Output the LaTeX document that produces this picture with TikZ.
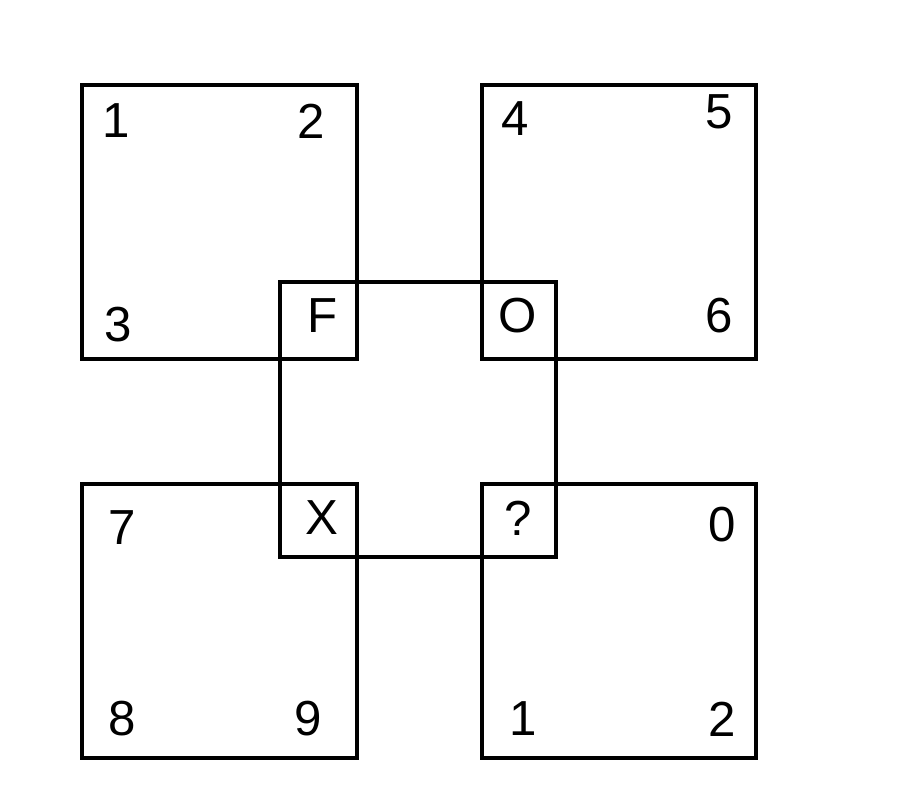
\documentclass[tikz,border=0pt]{standalone}
\usepackage{fontspec}
\setmainfont{Liberation Sans}
\tikzset{chiffre/.style={inner sep=0pt, font=\fontsize{35}{35}\selectfont}}
\begin{document}
\begin{tikzpicture}[x=0.025cm,y=-0.025cm,line width=2.5pt]
    \useasboundingbox (0,0) rectangle (900,800);
    % les quatre carrés
    \draw (82,85) rectangle (357,359);
    \draw (482,85) rectangle (756,359);
    \draw (82,484) rectangle (357,758);
    \draw (482,484) rectangle (756,758);
    % carré du milieu
    \draw (280,282) rectangle (556,557);
    % haut gauche
    \node[chiffre] (hg1) at (116,121) {1};
    \node[chiffre] (hg2) at (311,121) {2};
    \node[chiffre] (hg3) at (118,325) {3};
    \node[chiffre] (hgF) at (323,316) {F};
    % haut droite
    \node[chiffre] (hd4) at (515,119) {4};
    \node[chiffre] (hd5) at (719,112) {5};
    \node[chiffre] (hdO) at (518,316) {O};
    \node[chiffre] (hd6) at (719,316) {6};
    % bas gauche
    \node[chiffre] (bg7) at (122,528) {7};
    \node[chiffre] (bgX) at (322,518) {X};
    \node[chiffre] (bg8) at (122,719) {8};
    \node[chiffre] (bg9) at (308,719) {9};
    % bas droite
    \node[chiffre] (bdQ) at (518,518) {?};
    \node[chiffre] (bd0) at (722,525) {0};
    \node[chiffre] (bd1) at (523,719) {1};
    \node[chiffre] (bd2) at (722,719) {2};
\end{tikzpicture}
\end{document}
